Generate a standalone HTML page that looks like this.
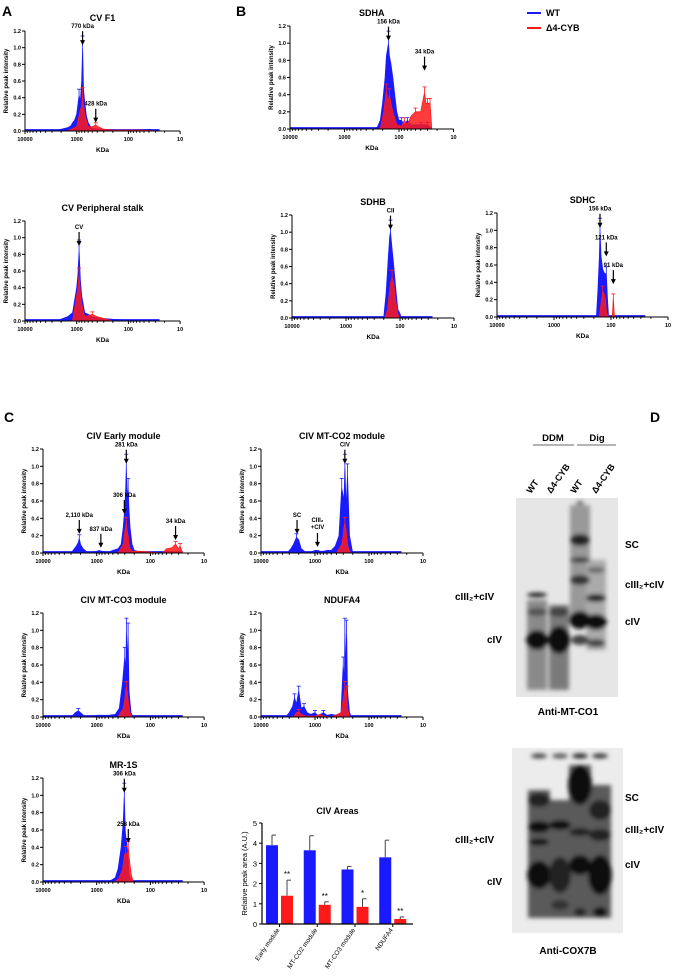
<!DOCTYPE html>
<html><head><meta charset="utf-8">
<style>
body{margin:0;background:#fff;}
svg{display:block;font-family:"Liberation Sans",sans-serif;}
</style></head>
<body>
<svg id="fig" width="685" height="979" viewBox="0 0 685 979" xmlns="http://www.w3.org/2000/svg">
<defs>
<filter id="blur2" x="-20%" y="-20%" width="140%" height="140%"><feGaussianBlur stdDeviation="2.2"/></filter>
<filter id="blur1" x="-20%" y="-20%" width="140%" height="140%"><feGaussianBlur stdDeviation="1.2"/></filter>
</defs>
<g font-weight="bold" font-size="14">
<text x="2" y="16">A</text>
<text x="236" y="16">B</text>
<text x="4" y="422">C</text>
<text x="650" y="422">D</text>
</g>
<g font-weight="bold" font-size="9">
<line x1="527" y1="13" x2="541" y2="13" stroke="#1a1aff" stroke-width="2"/>
<text x="546" y="16">WT</text>
<line x1="527" y1="28" x2="541" y2="28" stroke="#ff1a1a" stroke-width="2"/>
<text x="546" y="31">Δ4-CYB</text>
</g>
<g id="charts"></g>
<g id="bars"></g>
<g id="blots"></g>
</svg>
<script>
// ---- line chart data ----
const cvf1WtK=[3000,2000,1500,1300,1200,1100,1000,900,850,800,770,740,700,650,600,550,500,300,150,80,40,25];
const cvf1WtV=[0,0.02,0.04,0.06,0.1,0.13,0.2,0.43,0.35,0.6,1.0,0.5,0.35,0.18,0.1,0.06,0.03,0.02,0.01,0.01,0.02,0];
const cvf1RdK=[1500,1000,850,800,770,740,700,600,500,428,380,300,200,50,25];
const cvf1RdV=[0,0.05,0.25,0.3,0.45,0.3,0.2,0.05,0.05,0.07,0.05,0.02,0.01,0.01,0];
const sdhaWtK=[330,250,220,200,180,170,156,150,140,130,120,110,100,90,80,70,60,40,30,25];
const sdhaWtV=[0,0.02,0.1,0.3,0.6,0.85,1.0,0.85,0.75,0.6,0.4,0.2,0.1,0.1,0.05,0.1,0.05,0.05,0.05,0];
const sdhaRdK=[220,190,170,160,150,140,130,110,90,80,70,60,50,40,36,34,32,30,27,25];
const sdhaRdV=[0,0.2,0.45,0.3,0.4,0.3,0.2,0.05,0.03,0.1,0.05,0.15,0.2,0.2,0.35,0.42,0.3,0.3,0.3,0];
const stalkWtK=[2500,1500,1200,1000,950,900,850,800,700,600,500,300,200,100,50,25];
const stalkWtV=[0,0.05,0.1,0.4,0.55,0.85,0.5,0.3,0.1,0.08,0.05,0.03,0.02,0.01,0.01,0];
const stalkRdK=[1200,1000,950,900,850,800,700,500,400,200];
const stalkRdV=[0,0.3,0.4,0.55,0.35,0.2,0.05,0.08,0.05,0];
const sdhbWtK=[200,180,165,155,150,140,130,120,110,100,95];
const sdhbWtV=[0,0.3,0.7,0.95,1.0,0.8,0.6,0.35,0.1,0.05,0];
const sdhbRdK=[190,170,150,140,130,120,110,105];
const sdhbRdV=[0,0.1,0.4,0.48,0.4,0.2,0.05,0];
const sdhcWtK=[180,170,160,156,150,140,130,121,115,110];
const sdhcWtV=[0,0.3,0.7,1.0,0.7,0.55,0.5,0.5,0.2,0];
const sdhcRdK=[160,150,140,130,125,120,110,95,93,91,89,87];
const sdhcRdV=[0,0.15,0.3,0.25,0.2,0.05,0,0,0.1,0.22,0.1,0];
const earlyWtK=[3000,2400,2200,2110,2000,1800,1500,1200,1000,900,800,600,500,400,350,320,306,290,281,270,260,250,240,220,200,150,100];
const earlyWtV=[0,0.08,0.12,0.17,0.1,0.05,0.01,0.01,0.02,0.03,0.02,0.01,0.03,0.05,0.1,0.3,0.45,0.7,1.0,0.6,0.75,0.5,0.3,0.1,0.03,0.01,0];
const earlyRdK=[400,320,300,290,281,270,260,250,240,220,200,150,100,60,50,40,34,30,28,25];
const earlyRdV=[0,0.1,0.25,0.3,0.35,0.25,0.2,0.1,0.05,0.02,0.02,0.02,0.01,0,0.05,0.06,0.1,0.05,0.08,0];
const co2WtK=[3300,2800,2500,2200,2000,1800,1500,1200,1000,900,800,700,600,500,420,360,320,290,280,265,250,230,200];
const co2WtV=[0,0.05,0.1,0.18,0.15,0.05,0.01,0.01,0.03,0.03,0.02,0.02,0.03,0.03,0.08,0.2,0.75,0.6,1.0,0.5,0.9,0.2,0];
const co2RdK=[400,320,300,290,280,270,260,250,240,220];
const co2RdV=[0,0.1,0.2,0.3,0.35,0.3,0.2,0.1,0.05,0];
const co3WtK=[3000,2500,2200,2000,1700,1200,1000,800,600,450,380,330,300,285,280,270,260,250,230,210];
const co3WtV=[0,0.05,0.07,0.05,0.01,0.01,0.02,0.02,0.02,0.03,0.1,0.4,0.7,0.5,1.0,0.6,0.95,0.3,0.05,0];
const co3RdK=[400,320,300,290,280,270,260,250,240,220];
const co3RdV=[0,0.1,0.2,0.3,0.35,0.3,0.2,0.1,0.05,0];
const nduWtK=[3500,3000,2600,2400,2200,2000,1800,1600,1400,1200,1000,900,800,700,600,500,400,330,300,285,280,270,260,250,230,210];
const nduWtV=[0,0.05,0.12,0.22,0.15,0.3,0.1,0.12,0.05,0.03,0.05,0.02,0.03,0.05,0.02,0.03,0.02,0.05,0.6,0.4,1.0,0.5,0.98,0.3,0.05,0];
const nduRdK=[2500,2200,2000,1800,1500,1000,800,700,500,330,300,290,280,270,260,250,230];
const nduRdV=[0,0.05,0.06,0.03,0.01,0.01,0.03,0.01,0,0.05,0.2,0.25,0.35,0.25,0.3,0.1,0];
const mr1sWtK=[600,450,400,350,320,306,295,285,275,265,258,250,240,220,200];
const mr1sWtV=[0,0.05,0.15,0.4,0.7,1.0,0.6,0.5,0.45,0.3,0.25,0.1,0.05,0.02,0];
const mr1sRdK=[450,380,330,306,290,275,265,258,250,240,230,210];
const mr1sRdV=[0,0.05,0.15,0.3,0.35,0.3,0.35,0.4,0.3,0.2,0.1,0];
// ---- bar chart data ----
const barCats=['Early module','MT-CO2 module','MT-CO3 module','NDUFA4'];
const barWt=[3.9,3.65,2.7,3.3];
const barWtErr=[0.5,0.72,0.15,0.85];
const barRd=[1.4,0.95,0.85,0.25];
const barRdErr=[0.77,0.15,0.4,0.1];
const barStars=['**','**','*','**'];
const barTicks=[0,1,2,3,4,5];
const yTicks=[0,0.2,0.4,0.6,0.8,1.0,1.2];

const NS='http://www.w3.org/2000/svg';
function mk(tag,attrs,parent,text){const e=document.createElementNS(NS,tag);for(const k in attrs)e.setAttribute(k,attrs[k]);if(text!==undefined)e.textContent=text;parent.appendChild(e);return e;}

const charts=[
 {name:'cv-f1',title:'CV F1',x0:25,dec:51.7,yb:131,yt:31,wk:cvf1WtK,wv:cvf1WtV,rk:cvf1RdK,rv:cvf1RdV,ann:[['770 kDa',770,1.03],['428 kDa',428,0.1]]},
 {name:'sdha',title:'SDHA',x0:290,dec:54.5,yb:129,yt:26,wk:sdhaWtK,wv:sdhaWtV,rk:sdhaRdK,rv:sdhaRdV,ann:[['156 kDa',156,1.03],['34 kDa',34,0.68]]},
 {name:'cv-peripheral-stalk',title:'CV Peripheral stalk',x0:25,dec:51.7,yb:321,yt:221,wk:stalkWtK,wv:stalkWtV,rk:stalkRdK,rv:stalkRdV,ann:[['CV',900,0.9]]},
 {name:'sdhb',title:'SDHB',x0:292,dec:54,yb:318,yt:215,wk:sdhbWtK,wv:sdhbWtV,rk:sdhbRdK,rv:sdhbRdV,ann:[['CII',150,1.03]]},
 {name:'sdhc',title:'SDHC',x0:497,dec:57,yb:317,yt:213,wk:sdhcWtK,wv:sdhcWtV,rk:sdhcRdK,rv:sdhcRdV,ann:[['156 kDa',156,1.03],['121 kDa',121,0.7],['91 kDa',91,0.38]]},
 {name:'civ-early-module',title:'CIV Early module',x0:43,dec:53.7,yb:553,yt:449,wk:earlyWtK,wv:earlyWtV,rk:earlyRdK,rv:earlyRdV,ann:[['2,110 kDa',2110,0.22],['837 kDa',837,0.06],['306 kDa',306,0.45],['281 kDa',281,1.03],['34 kDa',34,0.15]]},
 {name:'civ-mt-co2-module',title:'CIV MT-CO2 module',x0:261,dec:54,yb:553,yt:449,wk:co2WtK,wv:co2WtV,rk:co2RdK,rv:co2RdV,ann:[['SC',2150,0.22],['CIII2+CIV',900,0.07],['CIV',280,1.03]]},
 {name:'civ-mt-co3-module',title:'CIV MT-CO3 module',x0:43,dec:53.7,yb:717,yt:613,wk:co3WtK,wv:co3WtV,rk:co3RdK,rv:co3RdV,ann:[]},
 {name:'ndufa4',title:'NDUFA4',x0:261,dec:54,yb:717,yt:613,wk:nduWtK,wv:nduWtV,rk:nduRdK,rv:nduRdV,ann:[]},
 {name:'mr-1s',title:'MR-1S',x0:43,dec:53.7,yb:882,yt:778,wk:mr1sWtK,wv:mr1sWtV,rk:mr1sRdK,rv:mr1sRdV,ann:[['306 kDa',306,1.03],['258 kDa',258,0.45]]}
];

const root=document.getElementById('charts');
charts.forEach(c=>{
 const g=mk('g',{},root);
 
 
 const X=k=>c.x0+(4-Math.log10(k))*c.dec;
 const sy=(c.yb-c.yt)/1.2;
 const Y=v=>c.yb-v*sy;
 const xEnd=X(10);
 const xMid=(c.x0+xEnd)/2;
 const t=mk('text',{x:xMid,y:c.yt-10,'text-anchor':'middle','font-size':9,'font-weight':'bold'},g,c.title);
 
 
 // baseline
 mk('line',{x1:c.x0,x2:X(25),y1:c.yb-1,y2:c.yb-1,stroke:'#1a1aff','stroke-width':1.8},g);
 // series
 [[c.wk,c.wv,'#1a1aff'],[c.rk,c.rv,'#ff1a1a']].forEach(([ks,vs,col],si)=>{
  let d='M'+X(ks[0]).toFixed(1)+','+c.yb;
  ks.forEach((k,i)=>{d+=' L'+X(k).toFixed(1)+','+Y(vs[i]).toFixed(1);});
  d+=' L'+X(ks[ks.length-1]).toFixed(1)+','+c.yb+'Z';
  const p=mk('path',{d:d,fill:col,'fill-opacity':si?0.85:1,stroke:col,'stroke-width':0.8},g);
  
  
  ks.forEach((k,i)=>{const v=vs[i];const pv=i?vs[i-1]:0,nv=i<vs.length-1?vs[i+1]:0;
   if(v>0.04&&v>=pv&&v>=nv){const e=v*0.12+0.02;const x=X(k);
    mk('line',{x1:x,x2:x,y1:Y(v),y2:Y(v+e),stroke:col,'stroke-width':0.8},g);
    mk('line',{x1:x-2,x2:x+2,y1:Y(v+e),y2:Y(v+e),stroke:col,'stroke-width':0.8},g);}});
 });
 const ax=mk('g',{stroke:'#000','stroke-width':1},g);
 
 
 mk('line',{x1:c.x0,x2:c.x0,y1:c.yt,y2:c.yb},ax);
 mk('line',{x1:c.x0,x2:xEnd,y1:c.yb,y2:c.yb},ax);
 yTicks.forEach(v=>{mk('line',{x1:c.x0-3,x2:c.x0,y1:Y(v),y2:Y(v)},ax);
  const tl=mk('text',{x:c.x0-4,y:Y(v)+2,'text-anchor':'end','font-size':5.5,'font-weight':'bold'},g,v.toFixed(1));
  
  });
 [10000,1000,100,10].forEach(k=>{mk('line',{x1:X(k),x2:X(k),y1:c.yb,y2:c.yb+3},ax);
  const tl=mk('text',{x:X(k),y:c.yb+10,'text-anchor':'middle','font-size':5.5,'font-weight':'bold'},g,String(k));
  
  });
 [1000,100,10].forEach(b=>{for(let m=2;m<10;m++){const x=X(b*m);mk('line',{x1:x,x2:x,y1:c.yb,y2:c.yb+1.8},ax);}});
 const xl=mk('text',{x:xMid,y:c.yb+21,'text-anchor':'middle','font-size':6.5,'font-weight':'bold'},g,'KDa');
 
 
 const yx=c.x0-17,yyy=(c.yt+c.yb)/2;
 const yl=mk('text',{x:yx,y:yyy,'text-anchor':'middle','font-size':6,'font-weight':'bold',transform:`rotate(-90 ${yx} ${yyy})`},g,'Relative peak intensity');
 
 
 c.ann.forEach(a=>{const x=X(a[1]);const tip=Y(a[2]);
  const ag=mk('g',{},g);
  
  
  mk('line',{x1:x,x2:x,y1:tip-14,y2:tip-3,stroke:'#000','stroke-width':1.2},ag);
  mk('path',{d:`M${x-2.5},${tip-5} L${x+2.5},${tip-5} L${x},${tip} Z`,fill:'#000'},ag);
  if(a[0]==='CIII2+CIV'){
   mk('text',{x:x,y:tip-25,'text-anchor':'middle','font-size':6,'font-weight':'bold'},ag,'CIII₂');
   mk('text',{x:x,y:tip-18,'text-anchor':'middle','font-size':6,'font-weight':'bold'},ag,'+CIV');
  } else {
   mk('text',{x:x,y:tip-17,'text-anchor':'middle','font-size':6,'font-weight':'bold'},ag,a[0]);
  }
 });
});

// ---- bar chart ----
(function(){
 const g=document.getElementById('bars');
 
 
 const x0=262,x1=413,yb=924,yt=823;
 const Y=v=>yb-(v/5)*(yb-yt);
 const gw=(x1-x0)/barCats.length;
 const bw=12;
 mk('text',{x:(x0+x1)/2,y:yt-9,'text-anchor':'middle','font-size':9,'font-weight':'bold'},g,'CIV Areas');
 barCats.forEach((cat,i)=>{
  const gx=x0+4+i*gw;
  [[barWt[i],barWtErr[i],'#1a1aff',gx,'bar-wt'],[barRd[i],barRdErr[i],'#ff1a1a',gx+bw+3,'bar-d4-cyb']].forEach(([v,e,col,bx,nm])=>{
   const r=mk('rect',{x:bx,y:Y(v),width:bw,height:yb-Y(v),fill:col},g);
   
   
   const cx=bx+bw/2;
   mk('line',{x1:cx,x2:cx,y1:Y(v),y2:Y(v+e),stroke:'#444','stroke-width':1},g);
   mk('line',{x1:cx,x2:cx+4,y1:Y(v+e),y2:Y(v+e),stroke:'#444','stroke-width':1},g);
  });
  const st=mk('text',{x:gx+bw+3+bw/2,y:Y(barRd[i]+barRdErr[i])-3,'text-anchor':'middle','font-size':8},g,barStars[i]);
  
  
  const lx=gx+bw+2,ly=yb+6;
  const cl=mk('text',{x:lx,y:ly,'text-anchor':'end','font-size':6.5,transform:`rotate(-55 ${lx} ${ly})`},g,cat);
  
  
  mk('line',{x1:gx+bw+1.5,x2:gx+bw+1.5,y1:yb,y2:yb+3,stroke:'#000'},g);
 });
 mk('line',{x1:x0,x2:x0,y1:yt,y2:yb,stroke:'#000','stroke-width':1.2},g);
 mk('line',{x1:x0,x2:x1,y1:yb,y2:yb,stroke:'#000','stroke-width':1.2},g);
 barTicks.forEach(v=>{mk('line',{x1:x0-3,x2:x0,y1:Y(v),y2:Y(v),stroke:'#000'},g);
  mk('text',{x:x0-5,y:Y(v)+3,'text-anchor':'end','font-size':7.5},g,String(v));});
 const yl=mk('text',{x:x0-15,y:(yt+yb)/2,'text-anchor':'middle','font-size':7.5,transform:`rotate(-90 ${x0-15} ${(yt+yb)/2})`},g,'Relative peak area (A.U.)');
 
 
})();

// ---- blots ----
(function(){
 const g=document.getElementById('blots');
 
 
 const T=(x,y,s,fs,anchor,extra)=>mk('text',Object.assign({x:x,y:y,'font-size':fs||9,'font-weight':'bold','text-anchor':anchor||'start'},extra||{}),g,s);
 T(553,441,'DDM',9.5,'middle');T(597,441,'Dig',9.5,'middle');
 mk('line',{x1:533,x2:574,y1:445,y2:445,stroke:'#888','stroke-width':1.2},g);
 mk('line',{x1:577,x2:616,y1:445,y2:445,stroke:'#888','stroke-width':1.2},g);
 [[531,'WT'],[551,'Δ4-CYB'],[575,'WT'],[596,'Δ4-CYB']].forEach(([x,s])=>{
  const t=T(x,494,s,9,'start',{transform:`rotate(-55 ${x} 494)`});
  
  
 });
 const band=(p,x,y,w,h,c)=>mk('ellipse',{cx:x,cy:y,rx:w/2,ry:h/2,fill:c},p);
 // blot 1
 const b1=mk('g',{},g);
 
 
 mk('rect',{x:516,y:498,width:102,height:199,fill:'#e6e6e6'},b1);
 const bg1=mk('g',{filter:'url(#blur2)'},b1);
 mk('rect',{x:527,y:600,width:20,height:90,fill:'#8a8a8a'},bg1);
 mk('rect',{x:549,y:605,width:20,height:85,fill:'#7a7a7a'},bg1);
 mk('rect',{x:570,y:505,width:20,height:120,fill:'#999'},bg1);
 mk('rect',{x:586,y:560,width:20,height:90,fill:'#aaa'},bg1);
 band(bg1,537,595,20,5,'#222');band(bg1,537,612,20,8,'#555');band(bg1,537,640,22,20,'#111');
 band(bg1,559,612,20,10,'#444');band(bg1,559,640,22,28,'#111');
 band(bg1,580,540,20,12,'#222');band(bg1,580,560,20,6,'#444');band(bg1,580,580,20,10,'#333');band(bg1,580,620,22,18,'#111');band(bg1,580,640,18,10,'#444');
 band(bg1,596,570,18,6,'#666');band(bg1,596,598,20,8,'#222');band(bg1,596,622,22,16,'#111');band(bg1,596,643,18,8,'#444');
 band(bg1,580,503,8,3,'#333');
 // blot 2
 const b2=mk('g',{},g);
 
 
 mk('rect',{x:512,y:748,width:111,height:185,fill:'#ececec'},b2);
 const bg2=mk('g',{filter:'url(#blur2)'},b2);
 [[539,'#444',790],[560,'#555',800],[580,'#222',765],[600,'#333',785]].forEach(([x,c,top])=>{
  mk('rect',{x:x-11,y:top,width:22,height:918-top,fill:'#5a5a5a'},bg2);
  band(bg2,x,756,16,5,c);
 });
 band(bg2,539,800,22,14,'#222');band(bg2,539,827,22,12,'#111');band(bg2,539,842,20,7,'#111');band(bg2,539,875,24,28,'#0a0a0a');
 band(bg2,560,825,22,10,'#111');band(bg2,560,875,22,36,'#222');band(bg2,560,905,18,10,'#333');
 band(bg2,580,785,24,40,'#0a0a0a');band(bg2,580,832,22,8,'#222');band(bg2,580,865,22,20,'#111');band(bg2,580,912,12,8,'#222');
 band(bg2,600,810,22,20,'#222');band(bg2,600,835,22,12,'#222');band(bg2,600,875,24,40,'#0a0a0a');band(bg2,600,912,14,10,'#111');
 [[625,545,'SC'],[625,585,'cIII₂+cIV'],[625,622,'cIV'],[455,597,'cIII₂+cIV'],[487,640,'cIV'],
  [625,798,'SC'],[625,830,'cIII₂+cIV'],[625,865,'cIV'],[455,840,'cIII₂+cIV'],[487,882,'cIV']].forEach(([x,y,s])=>{
  const t=T(x,y+3,s,10);
  
  
 });
 T(568,715,'Anti-MT-CO1',10,'middle');
 T(568,954,'Anti-COX7B',10,'middle');
})();
</script>
</body></html>
